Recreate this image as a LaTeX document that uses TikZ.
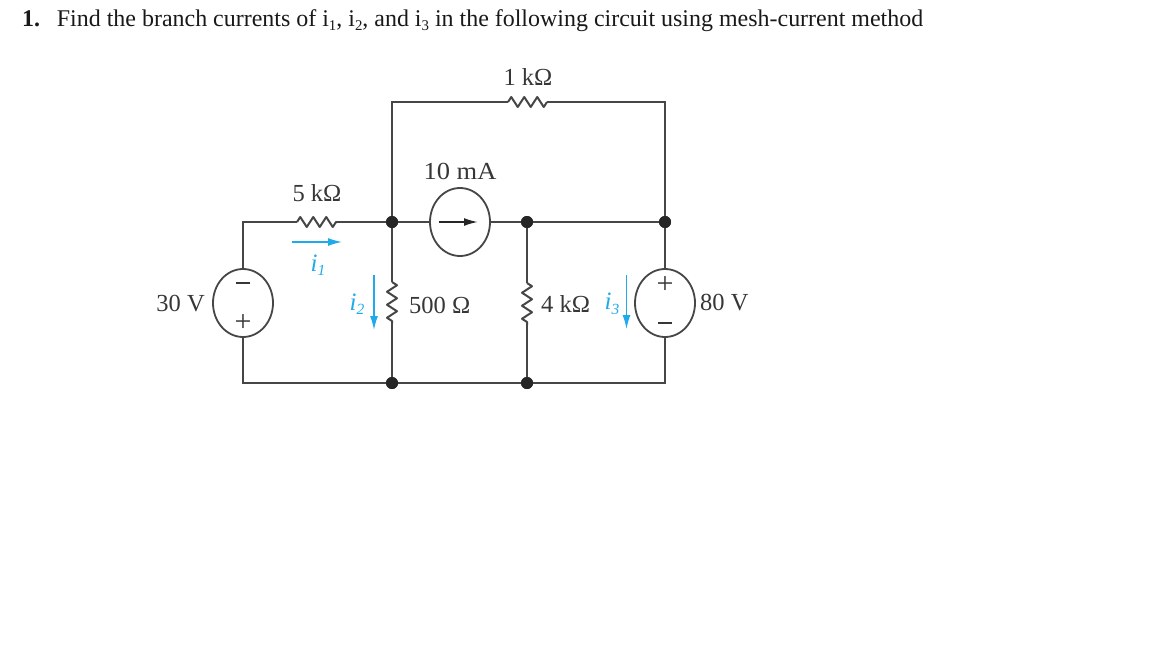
\documentclass[tikz,border=0pt]{standalone}
\usepackage{fontspec}
\setmainfont{Liberation Serif}
\usetikzlibrary{shapes.geometric,decorations.pathmorphing,arrows.meta}
\definecolor{wirec}{RGB}{70,70,70}
\definecolor{curc}{RGB}{30,170,235}
\definecolor{labc}{RGB}{55,55,55}
\newcommand{\sbs}[1]{\raisebox{-0.18em}{\scalebox{0.62}{#1}}}
\tikzset{
 wire/.style={draw=wirec,line width=2.4pt},
 res/.style={wire,line width=2pt,line join=round,decorate,decoration={zigzag,amplitude=5pt,segment length=13pt}},
 junction/.style={circle,fill=black!85,inner sep=0pt,minimum size=12pt},
 source/.style={ellipse,draw=wirec,line width=1.8pt,fill=white,inner sep=0pt,minimum width=60pt,minimum height=68pt},
 lab/.style={text=labc,font=\fontsize{24.5}{25}\selectfont,inner sep=0pt},
 curlab/.style={text=curc,font=\fontsize{25}{25}\selectfont\itshape,inner sep=0pt},
 curarrow/.style={draw=curc,line width=1.4pt,-{Latex[length=14pt,width=8pt]}},
 signs/.style={text=labc,font=\fontsize{30}{30}\selectfont,inner sep=0pt}
}
\begin{document}
\begin{tikzpicture}[x=1pt,y=-1pt]
\useasboundingbox[fill=white] (0,0) rectangle (1152,648);
\node[anchor=base west,inner sep=0pt,text=black!90,font=\fontsize{23.95}{24}\selectfont] (title) at (22,26)
 {\textbf{1.}\hspace{0.7em}Find the branch currents of i\sbs{1}, i\sbs{2}, and i\sbs{3} in the following circuit using mesh-current method};
% junctions
\node[junction] (ja) at (392,222) {};
\node[junction] (jb) at (527,222) {};
\node[junction] (jc) at (665,222) {};
\node[junction] (jd) at (392,383) {};
\node[junction] (je) at (527,383) {};
\coordinate (tl) at (392,102);
\coordinate (tr) at (665,102);
\coordinate (ul) at (243,222);
\coordinate (ll) at (243,383);
\coordinate (lr) at (665,383);
% resistor ends
\coordinate (r1a) at (508,102); \coordinate (r1b) at (547,102);
\coordinate (r5a) at (297,222); \coordinate (r5b) at (337,222);
\coordinate (r500a) at (392,282); \coordinate (r500b) at (392,323);
\coordinate (r4a) at (527,283); \coordinate (r4b) at (527,325);
% sources
\node[source] (vl) at (243,303) {};
\node[source] (vr) at (665,303) {};
\node[source] (cs) at (460,222) {};
% wires
\draw[wire] (vl) -- (ul) -- (r5a);
\draw[wire] (r5b) -- (ja);
\draw[wire] (ja) -- (cs);
\draw[wire] (cs) -- (jb);
\draw[wire] (jb) -- (jc);
\draw[wire] (ja) -- (r500a);
\draw[wire] (r500b) -- (jd);
\draw[wire] (ja) -- (tl) -- (r1a);
\draw[wire] (r1b) -- (tr) -- (jc);
\draw[wire] (jc) -- (vr);
\draw[wire] (vr) -- (lr) -- (je);
\draw[wire] (je) -- (jd);
\draw[wire] (jd) -- (ll) -- (vl);
\draw[wire] (jb) -- (r4a);
\draw[wire] (r4b) -- (je);
% resistors
\draw[res] (r1a) -- (r1b);
\draw[res] (r5a) -- (r5b);
\draw[res] (r500a) -- (r500b);
\draw[res] (r4a) -- (r4b);
% redraw on top
\node[junction] at (ja) {};
\node[junction] at (jb) {};
\node[junction] at (jc) {};
\node[junction] at (jd) {};
\node[junction] at (je) {};
% current source arrow
\coordinate (csa) at (439,222); \coordinate (csb) at (478,222);
\draw[draw=black!85,line width=1.8pt,-{Latex[length=14pt,width=8pt]}] (csa) -- (csb);
% signs
\node[signs] (pl) at (243,283) {\rule{14pt}{1.5pt}};
\node[signs] (ml) at (243,323) {+};
\node[signs] (pr) at (665,285) {+};
\node[signs] (mr) at (665,323) {\rule{14pt}{1.5pt}};
% labels
\node[lab] (l1k) at (528,77) {1 kΩ};
\node[lab] (l5k) at (317,193) {5 kΩ};
\node[lab,xscale=1.08] (l10) at (460,171) {10 mA};
\node[lab,anchor=east] (l30) at (205,304) {30 V};
\node[lab,anchor=west] (l80) at (700,303) {80 V};
\node[lab,anchor=west] (l500) at (409,305) {500 Ω};
\node[lab,anchor=west] (l4k) at (541,304) {4 kΩ};
% currents
\coordinate (a1a) at (292,242); \coordinate (a1b) at (342,242);
\coordinate (a2a) at (374,275); \coordinate (a2b) at (374,330);
\coordinate (a3a) at (626.5,275); \coordinate (a3b) at (626.5,329);
\draw[curarrow] (a1a) -- (a1b);
\draw[curarrow] (a2a) -- (a2b);
\draw[curarrow] (a3a) -- (a3b);
\node[curlab] (i1) at (318,265) {i\sbs{1}};
\node[curlab] (i2) at (357,304) {i\sbs{2}};
\node[curlab] (i3) at (612,304) {i\sbs{3}};
\end{tikzpicture}
\end{document}
